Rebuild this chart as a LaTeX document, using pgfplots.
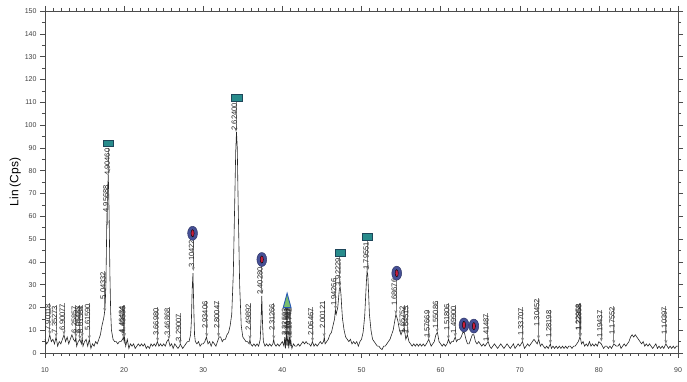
\documentclass[border=0pt]{standalone}
\usepackage{pgfplots}
\pgfplotsset{compat=1.18}
\usepackage{pgfplotstable}
\usepackage{fontspec}
\setmainfont{Liberation Sans}
\usetikzlibrary{arrows.meta}
\definecolor{sqteal}{RGB}{40,140,140}
\definecolor{sqedge}{RGB}{30,70,90}
\definecolor{elblue}{RGB}{70,80,150}
\definecolor{elred}{RGB}{200,30,60}
\definecolor{trgreen}{RGB}{120,190,110}
\definecolor{trblue}{RGB}{40,90,180}

\pgfplotstableread{
x top bot lab
10.6 22 8 7.90118
11.4 21 7 7.35273
12.4 22 8 6.90077
13.9 21 7 6.25857
14.4 21 6 6.05488
14.7 21 7 6.01564
15.6 22 6 5.61590
17.55 36 18 5.04332
17.88 74 56 4.95688
18.07 90 79 4.90460
19.87 21 7 4.46434
20.05 21 7 4.43556
24.23 20 5 3.66980
25.66 20 6 3.46868
27.08 17.5 4 3.29007
28.74 50 36 3.10422
30.44 23 7 2.93406
31.93 23 7 2.80047
34.14 110 97 2.62400
35.91 22 6 2.49892
37.40 38 26 2.40280
38.91 22 6 2.31266
40.49 20 9 2.22593
40.69 20 8 2.21551
40.88 20 7 2.20567
41.04 20 6 2.19742
43.81 20 5 2.06467
45.28 23 7 2.00121
46.72 33 19 1.94266
47.24 42 29 1.92229
50.78 49 36 1.79551
54.35 33 17 1.68676
55.38 21 11 1.65752
55.80 21 8 1.64515
58.49 19 6 1.57669
59.56 23 9 1.55086
60.98 22 6 1.51806
61.85 21 7 1.49900
65.96 17.5 5 1.41487
70.35 20 5 1.33707
72.37 24 6 1.30452
73.87 19 4 1.28198
77.60 22 7 1.22958
77.68 22 7 1.22858
80.31 19 5 1.19437
81.88 20.5 4 1.17552
88.47 20.5 4 1.10397
}\peaklabels

\begin{document}
\begin{tikzpicture}
\begin{axis}[
  name=ax,
  scale only axis,
  width=633pt, height=342pt,
  xmin=10, xmax=90, ymin=0, ymax=150,
  xtick={10,20,...,90}, ytick={0,10,...,150},
  minor x tick num=9, minor y tick num=1,
  tick align=outside,
  major tick length=5pt, minor tick length=3pt,
  axis line style={black!70},
  every tick/.style={black!70},
  tick label style={font=\fontsize{7}{8}\selectfont, text=black!75},
  /pgf/number format/assume math mode=true,
  xticklabel style={yshift=-6pt},
  ylabel={Lin (Cps)},
  ylabel style={at={(axis description cs:-0.047,0.5)}, anchor=center, font=\fontsize{12}{14}\selectfont},
  clip=false,
]
% profile
\addplot[black!85, line width=0.6pt] coordinates {
(10.0,6)(10.2,4)(10.4,5)(10.6,8)(10.8,5)(11.0,6)(11.2,4)(11.4,7)(11.6,3)(11.8,5)(12.0,4)(12.2,6)(12.4,8)(12.6,5)(12.8,7)(13.0,4)(13.2,6)(13.4,8)(13.6,6)(13.8,5)(13.9,7)(14.0,3)(14.2,5)(14.4,6)(14.6,4)(14.7,7)(14.8,3)(15.0,5)(15.2,6)(15.4,3)(15.6,6)(15.8,2)(16.0,4)(16.2,3)(16.4,5)(16.6,4)(16.8,6)(17.0,8)(17.2,12)(17.4,15)(17.5,17)(17.6,21)(17.7,30)(17.8,55)(17.9,70)(18.0,78)(18.1,62)(18.2,35)(18.3,18)(18.4,10)(18.6,6)(18.8,5)(19.0,5)(19.2,4)(19.4,5)(19.6,5)(19.8,6)(19.9,7)(20.0,5)(20.05,7)(20.2,3)(20.4,6)(20.6,2)(20.8,4)
(21.0,3)(21.2,4)(21.4,2)(21.6,3)(21.8,4)(22.0,3)(22.2,4)(22.4,3)(22.6,4)(22.8,2)(23.0,3)(23.2,2)(23.4,4)(23.6,3)(23.8,4)(24.0,3)(24.2,5)(24.4,3)(24.6,4)(24.8,3)(25.0,4)(25.2,3)(25.4,5)(25.6,6)(25.8,3)(26.0,4)(26.2,2)(26.4,4)(26.6,3)(26.8,2)(27.0,3)(27.1,4)(27.4,2)(27.6,3)(27.8,4)(28.0,5)(28.2,5)(28.4,8)(28.5,14)(28.6,28)(28.7,35)(28.8,20)(28.9,8)(29.0,5)(29.2,4)(29.4,5)(29.6,3)(29.8,4)(30.0,4)(30.2,5)(30.4,7)(30.6,4)(30.8,5)
(31.0,3)(31.2,5)(31.4,4)(31.6,3)(31.8,5)(32.0,7)(32.2,7)(32.4,5)(32.6,6)(32.8,6)(33.0,8)(33.2,9)(33.4,12)(33.6,17)(33.8,35)(34.0,70)(34.1,88)(34.2,97)(34.3,90)(34.4,68)(34.6,30)(34.8,12)(35.0,7)(35.2,6)(35.4,5)(35.6,5)(35.8,4)(35.9,6)(36.0,4)(36.2,3)(36.4,4)(36.6,3)(36.8,4)(37.0,3)(37.2,6)(37.3,14)(37.4,25)(37.5,12)(37.6,5)(37.8,3)(38.0,4)(38.2,3)(38.4,4)(38.6,3)(38.8,4)(38.9,6)(39.0,4)(39.2,3)(39.4,4)(39.6,3)(39.8,4)(40.0,5)(40.2,3)(40.3,7)(40.4,2)(40.5,9)(40.6,3)(40.7,8)(40.8,2)(40.9,7)(41.0,3)(41.05,6)(41.2,2)(41.4,4)(41.6,3)(41.8,3)
(42.0,4)(42.2,3)(42.4,4)(42.6,5)(42.8,4)(43.0,5)(43.2,4)(43.4,4)(43.6,3)(43.8,5)(44.0,3)(44.2,4)(44.4,3)(44.6,4)(44.8,5)(45.0,4)(45.2,5)(45.3,7)(45.4,4)(45.6,5)(45.8,6)(46.0,8)(46.2,9)(46.4,12)(46.6,15)(46.7,19)(46.8,17)(47.0,20)(47.2,28)(47.3,29)(47.4,26)(47.5,20)(47.6,15)(47.8,10)(48.0,7)(48.2,6)(48.4,5)(48.6,6)(48.8,4)(49.0,5)(49.2,4)(49.4,5)(49.6,3)(49.8,5)(50.0,6)(50.2,9)(50.4,16)(50.6,30)(50.7,36)(50.8,34)(50.9,26)(51.0,17)(51.2,10)(51.4,6)(51.6,5)(51.8,4)
(52.0,3)(52.2,3)(52.4,2)(52.6,1.5)(52.8,3)(53.0,3)(53.2,4)(53.4,5)(53.6,6)(53.8,8)(54.0,10)(54.2,14)(54.35,17)(54.6,14)(54.8,10)(55.0,8)(55.2,10)(55.4,11)(55.6,6)(55.8,8)(56.0,5)(56.2,4)(56.4,3)(56.6,4)(56.8,3)(57.0,4)(57.2,3)(57.4,4)(57.6,3)(57.8,4)(58.0,3)(58.2,4)(58.5,6)(58.8,3)(59.0,4)(59.2,5)(59.4,8)(59.6,9)(59.8,5)(60.0,4)(60.2,3)(60.4,4)(60.6,3)(60.8,4)(61.0,6)(61.2,4)(61.4,5)(61.6,5)(61.85,7)(62.0,5)(62.2,6)(62.4,6)(62.6,7)(62.8,9)(63.0,9)(63.2,6)(63.4,4)(63.6,4)(63.8,6)(64.0,8)(64.2,8)(64.4,5)(64.6,4)(64.8,5)(65.0,4)(65.2,3)(65.4,4)(65.6,3)(65.8,4)(66.0,5)(66.2,3)(66.4,2)(66.6,3)(66.8,4)
(67.0,3)(67.2,2)(67.4,3)(67.6,4)(67.8,3)(68.0,2)(68.2,3)(68.4,4)(68.6,3)(68.8,2)(69.0,3)(69.2,4)(69.4,2)(69.6,3)(69.8,4)(70.0,3)(70.35,5)(70.6,2)(70.8,3)(71.0,4)(71.2,3)(71.4,4)(71.6,5)(71.8,6)(72.0,5)(72.2,4)(72.4,6)(72.6,3)(72.8,4)(73.0,3)(73.2,2)(73.4,3)(73.6,2)(73.87,4)(74.0,2)(74.2,3)(74.4,2)(74.6,3)(74.8,2)(75.0,3)(75.2,2)(75.4,3)(75.6,2)(75.8,3)(76.0,2)(76.2,3)(76.4,3)(76.6,2)(76.8,3)(77.0,3)(77.2,4)(77.4,5)(77.6,7)(77.7,6)(77.8,4)(78.0,5)(78.2,3)(78.4,4)(78.6,3)(78.8,5)(79.0,3)(79.2,4)(79.4,3)(79.6,4)(79.8,3)(80.0,5)(80.3,4)(80.6,2)(80.8,3)
(81.0,3)(81.2,2)(81.4,3)(81.6,2)(81.9,4)(82.2,3)(82.4,3)(82.6,4)(82.8,2)(83.0,3)(83.2,4)(83.4,3)(83.6,4)(83.8,5)(84.0,7)(84.2,8)(84.4,7)(84.6,8)(84.8,7)(85.0,6)(85.2,5)(85.4,4)(85.6,5)(85.8,3)(86.0,4)(86.2,3)(86.4,4)(86.6,3)(86.8,2)(87.0,3)(87.2,4)(87.4,2)(87.6,3)(87.8,2)(88.0,3)(88.2,2)(88.47,4)(88.8,2)(89.0,3)(89.2,2)(89.4,3)(89.6,2)(89.8,3)(90.0,3)
};
% peak label lines
\addplot[black!50, line width=0.8pt, -{Stealth[length=4pt,width=3pt]},
  quiver={u=0, v=\thisrow{bot}-\thisrow{top}}] table[x=x, y=top] {\peaklabels};
% peak label texts
\addplot[draw=none, mark=none, nodes near coords, point meta=explicit symbolic,
  nodes near coords style={rotate=90, anchor=south east, inner sep=0.8pt, yshift=-2pt,
  font=\fontsize{7.5}{8}\selectfont, text=black!85}]
  table[x=x, y=top, meta=lab] {\peaklabels};
% phase markers
\addplot[only marks, mark=square*, mark size=3.8pt, mark options={xscale=1.35, yscale=0.85, fill=sqteal, draw=sqedge, line width=0.7pt}]
  coordinates {(18.0,92)(34.25,112)(47.3,44)(50.75,51)};
\addplot[only marks, mark=*, mark size=7pt, mark options={xscale=0.7, yscale=1.0, fill=elblue, draw=elblue!70!black, line width=0.5pt}]
  coordinates {(28.65,52.5)(37.4,41)(54.45,35)(62.95,12.3)(64.2,11.8)};
\addplot[only marks, mark=*, mark size=2.6pt, mark options={xscale=0.6, yscale=1.4, fill=elred, draw=none}]
  coordinates {(28.65,52.5)(37.4,41)(54.45,35)(62.95,12.3)(64.2,11.8)};
\addplot[only marks, mark=triangle*, mark size=6pt, mark options={xscale=0.75, yscale=1.6, fill=trgreen, draw=trblue, line width=0.9pt}]
  coordinates {(40.6,22)};
\end{axis}
\pgfresetboundingbox
\path ([xshift=-45pt,yshift=-29pt]ax.south west) rectangle ([xshift=9pt,yshift=11pt]ax.north east);
\end{tikzpicture}
\end{document}
